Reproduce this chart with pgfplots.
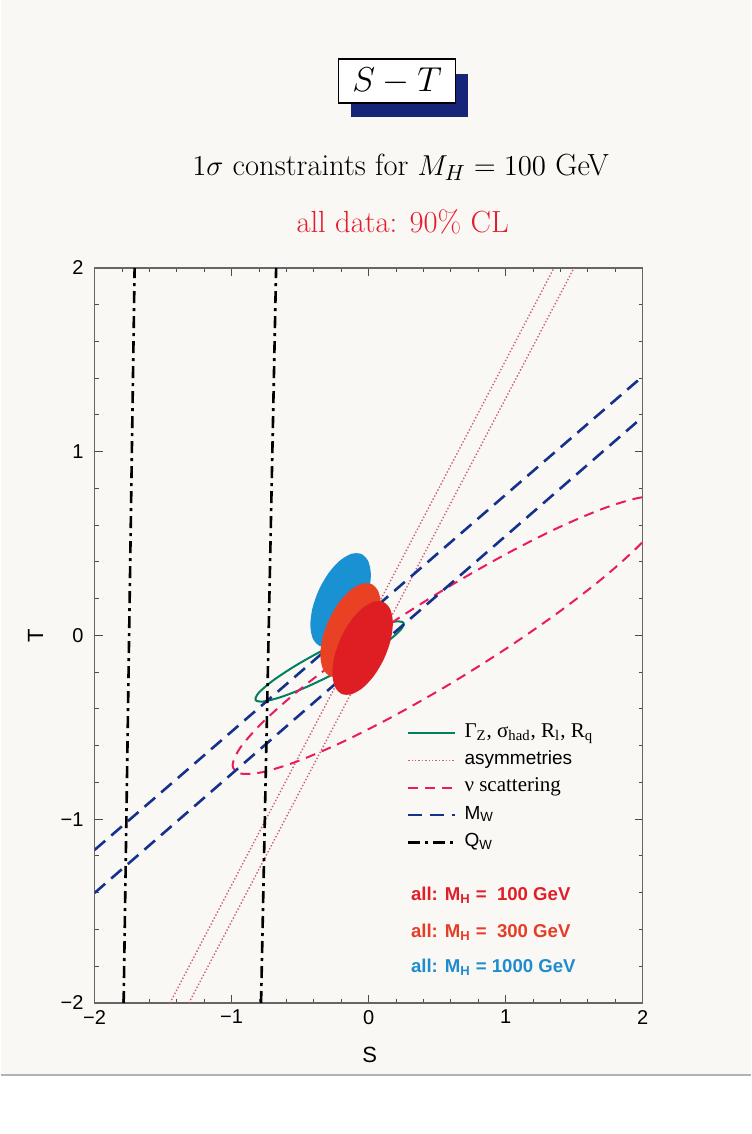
\documentclass[border=0pt]{standalone}
\usepackage{pgfplots}
\pgfplotsset{compat=1.18}
\usepackage{fontspec}
\newfontfamily\helv{Liberation Sans}
\newfontfamily\tnr{Liberation Serif}
\definecolor{bg}{RGB}{250,248,244}
\definecolor{navy}{RGB}{22,36,122}
\definecolor{titlered}{RGB}{230,28,45}
\definecolor{gline}{RGB}{0,128,96}
\definecolor{asym}{RGB}{205,95,125}
\definecolor{nuc}{RGB}{232,28,95}
\definecolor{mw}{RGB}{20,50,140}
\definecolor{bluef}{RGB}{25,145,210}
\definecolor{orangef}{RGB}{232,65,35}
\definecolor{redf}{RGB}{222,30,35}
\definecolor{txtred}{RGB}{225,30,40}
\definecolor{txtorange}{RGB}{228,62,40}
\definecolor{txtblue}{RGB}{30,140,205}
\begin{document}
\begin{tikzpicture}
\fill[bg] (-47pt,-36pt) rectangle (328pt,501.5pt);
\fill[white] (-47pt,-65.5pt) rectangle (328pt,-36pt);
\draw[gray!60, line width=0.6pt] (-47pt,-36pt) -- (328pt,-36pt);
% title box
\fill[navy] (128pt,443pt) rectangle ++(58.5pt,21.5pt);
\node[draw=black, line width=0.6pt, fill=white, minimum width=58.5pt, minimum height=22pt, inner sep=0pt] at (151.25pt,461pt) {\LARGE $S - T$};
\node at (153pt,418pt) {\fontsize{15.3}{18}\selectfont $1\sigma$ constraints for $M_H = 100$ GeV};
\node[text=titlered] at (154pt,390.5pt) {\fontsize{15.3}{18}\selectfont all data: 90\% CL};
\begin{axis}[
 scale only axis, width=274pt, height=367.5pt, at={(0pt,0pt)}, anchor=south west,
 xmin=-2, xmax=2, ymin=-2, ymax=2,
 xtick={-2,-1,0,1,2}, ytick={-2,-1,0,1,2},
 xticklabels={−2,−1,0,1,2}, yticklabels={−2,−1,0,1,2},
 minor tick num=4,
 tick align=inside,
 major tick length=4pt, minor tick length=2pt,
 every tick/.style={black!70, line width=0.5pt},
 axis line style={black!60, line width=0.6pt},
 tick label style={font=\helv\fontsize{10}{12}\selectfont},
 yticklabel style={xshift=-2pt},
 xlabel={S}, ylabel={T},
 label style={font=\helv\fontsize{11}{13}\selectfont},
 xlabel style={at={(axis description cs:0.502,-0.0707)}, anchor=center},
 ylabel style={at={(axis description cs:-0.1077,0.5)}, anchor=center},
 legend style={draw=none, fill=none, at={(axis cs:0.277,-0.46)}, anchor=north west,
   font=\helv\fontsize{9.5}{11}\selectfont, inner sep=0pt, row sep=0.6pt, column sep=2.5pt,
   nodes={inner sep=1.5pt, text height=7pt, text depth=3pt}},
 legend cell align=left,
 legend image code/.code={\draw[#1] (0pt,0pt) -- (23.5pt,0pt);},
]
% Gamma_Z etc. ellipse
\addplot[gline, line width=1pt, smooth cycle] coordinates {
(0.255,0.068) (0.2308,0.028) (0.1278,-0.0378) (-0.0377,-0.1193) (-0.2412,-0.2043)
(-0.4513,-0.2797) (-0.6358,-0.334) (-0.7672,-0.3592) (-0.825,-0.351) (-0.8008,-0.311)
(-0.6978,-0.2452) (-0.5323,-0.1637) (-0.3288,-0.0787) (-0.1187,-0.0033) (0.0658,0.051) (0.1972,0.0762)};
\addlegendentry{{\tnr\fontsize{10.5}{11}\selectfont Γ\textsubscript{Z}, σ\textsubscript{had}, R\textsubscript{l}, R\textsubscript{q}}}
% asymmetries
\addplot[asym, line width=0.7pt, densely dotted] coordinates {(-1.450,-2) (1.353,2)};
\addlegendentry{asymmetries}
\addplot[asym, line width=0.7pt, densely dotted, forget plot] coordinates {(-1.312,-2) (1.499,2)};
% nu scattering
\addplot[nuc, line width=1pt, dash pattern=on 5pt off 3.5pt, smooth cycle] coordinates {
(2.1751,0.7091) (2.1211,0.7540) (1.9629,0.7477) (1.7112,0.6905) (1.3832,0.5864) (1.0011,0.4423)
(0.5912,0.2683) (0.1813,0.0761) (-0.2008,-0.1212) (-0.5288,-0.3101) (-0.7805,-0.4777) (-0.9387,-0.6128)
(-0.9927,-0.7059) (-0.9387,-0.7508) (-0.7805,-0.7445) (-0.5288,-0.6873) (-0.2008,-0.5832) (0.1813,-0.4391)
(0.5912,-0.2651) (1.0011,-0.0729) (1.3832,0.1244) (1.7112,0.3133) (1.9629,0.4809) (2.1211,0.6160)};
\addlegendentry{{\tnr\fontsize{10.5}{11}\selectfont ν scattering}}
% M_W
\addplot[mw, line width=1.3pt, dash pattern=on 7pt off 4pt] coordinates {(-2,-1.167) (2,1.41)};
\addlegendentry{M\textsubscript{W}}
\addplot[mw, line width=1.3pt, dash pattern=on 7pt off 4pt, forget plot] coordinates {(-2,-1.401) (2,1.189)};
% Q_W
\addplot[black, line width=1.3pt, dash pattern=on 6pt off 2.5pt on 1.5pt off 2.5pt] coordinates {(-1.788,-2) (-1.708,2)};
\addlegendentry{Q\textsubscript{W}}
\addplot[black, line width=1.3pt, dash pattern=on 6pt off 2.5pt on 1.5pt off 2.5pt, forget plot] coordinates {(-0.785,-2) (-0.675,2)};
% filled ellipses
\addplot[draw=none, fill=bluef, smooth cycle, forget plot] coordinates {
(-0.0511,0.4430) (-0.0019,0.4032) (0.0165,0.3313) (0.0013,0.2386) (-0.0453,0.1388) (-0.1161,0.0472)
(-0.2003,-0.0219) (-0.2851,-0.0584) (-0.3577,-0.0566) (-0.4069,-0.0168) (-0.4253,0.0551) (-0.4101,0.1478)
(-0.3635,0.2476) (-0.2927,0.3392) (-0.2085,0.4083) (-0.1237,0.4448)};
\addplot[draw=none, fill=orangef, smooth cycle, forget plot] coordinates {
(0.0219,0.2797) (0.0711,0.2399) (0.0895,0.1680) (0.0743,0.0753) (0.0277,-0.0245) (-0.0431,-0.1161)
(-0.1273,-0.1852) (-0.2121,-0.2217) (-0.2847,-0.2199) (-0.3339,-0.1801) (-0.3523,-0.1082) (-0.3371,-0.0155)
(-0.2905,0.0843) (-0.2197,0.1759) (-0.1355,0.2450) (-0.0507,0.2815)};
\addplot[draw=none, fill=redf, smooth cycle, forget plot] coordinates {
(0.1095,0.1818) (0.1587,0.1420) (0.1771,0.0701) (0.1619,-0.0226) (0.1153,-0.1224) (0.0445,-0.2140)
(-0.0397,-0.2831) (-0.1245,-0.3196) (-0.1971,-0.3178) (-0.2463,-0.2780) (-0.2647,-0.2061) (-0.2495,-0.1134)
(-0.2029,-0.0136) (-0.1321,0.0780) (-0.0479,0.1471) (0.0369,0.1836)};
% M_H labels
\node[anchor=west, inner sep=0pt, text=txtred, font=\helv\bfseries\fontsize{9.3}{11}\selectfont] at (axis cs:0.3066,-1.412) {all: M\textsubscript{H} = \ 100 GeV};
\node[anchor=west, inner sep=0pt, text=txtorange, font=\helv\bfseries\fontsize{9.3}{11}\selectfont] at (axis cs:0.3066,-1.614) {all: M\textsubscript{H} = \ 300 GeV};
\node[anchor=west, inner sep=0pt, text=txtblue, font=\helv\bfseries\fontsize{9.3}{11}\selectfont] at (axis cs:0.3066,-1.805) {all: M\textsubscript{H} = 1000 GeV};
\end{axis}
\end{tikzpicture}
\end{document}
